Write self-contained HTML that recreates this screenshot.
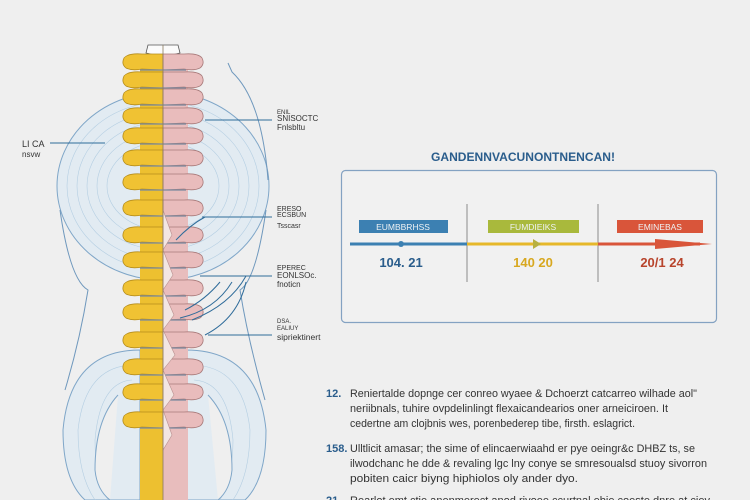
<!DOCTYPE html>
<html><head><meta charset="utf-8"><style>
html,body{margin:0;padding:0;background:#efefef;}
svg{display:block;}
text{font-family:"Liberation Sans",sans-serif;}
</style></head><body>
<svg width="750" height="500" viewBox="0 0 750 500" xmlns="http://www.w3.org/2000/svg">
<rect width="750" height="500" fill="#efefef"/>
<defs>
<g id="vy">
<path d="M163,-8 L142,-8 Q128,-9 124,-4 Q121,2 126,6 Q132,9 142,7 L163,8 Z" fill="#f0c233" stroke="#b48c1c" stroke-width="0.8"/>
<path d="M163,-8 L184,-8 Q198,-9 202,-4 Q205,2 200,6 Q194,9 184,7 L163,8 Z" fill="#e9bcbc" stroke="#a87a7a" stroke-width="0.8"/>
<path d="M140,8 L186,8" stroke="#7a8aa0" stroke-width="1.2"/>
</g>
</defs>
<g fill="none" stroke="#b4cee2" stroke-width="0.6">
<ellipse cx="163" cy="186" rx="106" ry="94" fill="#e2ebf2" stroke="#7fa6c8" stroke-width="1"/>
<ellipse cx="163" cy="186" rx="96" ry="84"/>
<ellipse cx="163" cy="186" rx="86" ry="74"/>
<ellipse cx="163" cy="186" rx="76" ry="64"/>
<ellipse cx="163" cy="186" rx="66" ry="54"/>
<ellipse cx="163" cy="186" rx="56" ry="44"/>
</g>
<g fill="none" stroke="#b4cee2" stroke-width="0.6">
<path d="M140,350 Q70,350 63,430 Q63,480 85,500 L140,500 Z" fill="#e2ebf2" stroke="#7fa6c8" stroke-width="1"/>
<path d="M186,350 Q258,350 266,430 Q266,480 245,500 L186,500 Z" fill="#e2ebf2" stroke="#7fa6c8" stroke-width="1"/>
<path d="M135,365 Q85,365 78,430 Q78,475 95,500"/>
<path d="M132,380 Q100,382 95,440 Q95,475 108,500"/>
<path d="M191,365 Q243,365 250,430 Q250,475 233,500"/>
<path d="M194,380 Q228,382 233,440 Q233,475 220,500"/>
</g>
<path d="M118,395 Q95,420 95,470 Q97,490 110,500" fill="#efefef" stroke="#7fa6c8" stroke-width="1"/>
<path d="M208,395 Q232,420 232,470 Q230,490 218,500" fill="#efefef" stroke="#7fa6c8" stroke-width="1"/>
<path d="M60,210 Q70,280 88,290 Q80,340 65,390" fill="none" stroke="#6f98bd" stroke-width="1"/>
<path d="M266,210 Q256,280 240,290 Q248,340 265,400" fill="none" stroke="#6f98bd" stroke-width="1"/>
<path d="M228,63 L232,72 Q262,100 268,180" fill="none" stroke="#6f98bd" stroke-width="1"/>
<rect x="140" y="55" width="23" height="445" fill="#edc030"/>
<rect x="163" y="55" width="25" height="445" fill="#e8bdbd"/>
<path d="M148,45 L163,45 L178,45 L180,53 L163,57 L146,53 Z" fill="#fbfbfb" stroke="#555" stroke-width="0.8"/>
<use href="#vy" y="62"/><use href="#vy" y="80"/><use href="#vy" y="97"/>
<use href="#vy" y="116"/><use href="#vy" y="136"/><use href="#vy" y="158"/>
<use href="#vy" y="182"/><use href="#vy" y="208"/><use href="#vy" y="235"/>
<use href="#vy" y="260"/><use href="#vy" y="288"/><use href="#vy" y="312"/>
<use href="#vy" y="340"/><use href="#vy" y="367"/><use href="#vy" y="392"/>
<use href="#vy" y="420"/>
<g fill="#f3e6e3" stroke="#b89090" stroke-width="0.6">
<path d="M163,210 L172,235 L163,250 Z"/><path d="M163,250 L173,275 L163,290 Z"/>
<path d="M163,290 L174,315 L163,330 Z"/><path d="M163,330 L175,355 L163,370 Z"/>
<path d="M163,370 L174,395 L163,410 Z"/><path d="M163,410 L172,435 L163,450 Z"/>
</g>
<line x1="163" y1="45" x2="163" y2="500" stroke="#8a7a60" stroke-width="0.8"/>
<g stroke="#2f6c9a" stroke-width="1" fill="none">
<line x1="50" y1="143" x2="105" y2="143"/>
<line x1="205" y1="120" x2="272" y2="120"/>
<line x1="202" y1="217" x2="272" y2="217"/>
<path d="M205,217 Q190,225 176,240"/>
<line x1="200" y1="276" x2="272" y2="276"/>
<path d="M246,276 Q230,305 192,320"/><path d="M232,282 Q215,310 180,318"/><path d="M220,282 Q205,300 185,310"/>
<line x1="208" y1="335" x2="272" y2="335"/>
<path d="M246,282 Q238,318 205,335"/>
</g>
<g fill="#333" font-size="8">
<text x="22" y="147" font-size="9">LI CA</text><text x="22" y="157" font-size="8">nsvw</text>
<text x="277" y="114" font-size="6">ENIL</text><text x="277" y="121">SNISOCTC</text><text x="277" y="130">Fnlsbltu</text>
<text x="277" y="211" font-size="7">ERESO</text><text x="277" y="217" font-size="7">ECSBUN</text><text x="277" y="228" font-size="7">Tsscasr</text>
<text x="277" y="270" font-size="7">EPEREC</text><text x="277" y="278">EONLSOc.</text><text x="277" y="287">fnoticn</text>
<text x="277" y="323" font-size="6">DSA.</text><text x="277" y="330" font-size="6">EALIUY</text><text x="277" y="340" font-size="8.5">sipriektinert</text>
</g>
<text x="431" y="161" textLength="184" lengthAdjust="spacingAndGlyphs" font-size="12" font-weight="bold" fill="#2a5d8c">GANDENNVACUNONTNENCAN!</text>
<rect x="341.5" y="170.5" width="375" height="152" rx="4" fill="#f1f1f1" stroke="#84a2c2" stroke-width="1.2"/>
<line x1="467" y1="204" x2="467" y2="282" stroke="#8a8a8a" stroke-width="1"/>
<line x1="598" y1="204" x2="598" y2="282" stroke="#8a8a8a" stroke-width="1"/>
<rect x="359" y="220" width="89" height="13" fill="#3c80b2"/>
<rect x="488" y="220" width="91" height="13" fill="#a9b93c"/>
<rect x="617" y="220" width="86" height="13" fill="#d9553a"/>
<g font-size="8.5" fill="#eef2f4" text-anchor="middle">
<text x="403" y="230">EUMBBRHSS</text><text x="533" y="230">FUMDIEIKS</text><text x="660" y="230">EMINEBAS</text>
</g>
<line x1="350" y1="244" x2="467" y2="244" stroke="#3c80b2" stroke-width="3"/>
<circle cx="401" cy="244" r="3" fill="#3c80b2"/>
<line x1="467" y1="244" x2="598" y2="244" stroke="#e6b82a" stroke-width="3"/>
<path d="M533,239 L541,244 L533,249 Z" fill="#b8b040"/>
<line x1="598" y1="244" x2="700" y2="244" stroke="#d9553a" stroke-width="3"/>
<path d="M655,239 L712,244 L655,249 Z" fill="#d9553a"/>
<g font-size="13" text-anchor="middle" font-weight="bold">
<text x="401" y="267" fill="#2a5d8c">104. 21</text>
<text x="533" y="267" fill="#d8a820">140  20</text>
<text x="662" y="267" fill="#b8442c">20/1 24</text>
</g>
<g font-size="11" fill="#333" lengthAdjust="spacingAndGlyphs">
<text x="326" y="397" fill="#2a5d8c" font-weight="bold">12.</text>
<text x="350" y="397" textLength="347" lengthAdjust="spacingAndGlyphs">Reniertalde dopnge cer conreo wyaee &amp; Dchoerzt catcarreo wilhade aol"</text>
<text x="350" y="412" textLength="318" lengthAdjust="spacingAndGlyphs">neriibnals, tuhire ovpdelinlingt flexaicandearios oner arneiciroen. It</text>
<text x="350" y="427" textLength="285" lengthAdjust="spacingAndGlyphs">cedertne am clojbnis wes, porenbederep tibe, firsth. eslagrict.</text>
<text x="326" y="452" fill="#2a5d8c" font-weight="bold">158.</text>
<text x="350" y="452" textLength="345" lengthAdjust="spacingAndGlyphs">Ulltlicit amasar; the sime of elincaerwiaahd er pye oeingr&amp;c DHBZ ts, se</text>
<text x="350" y="467" textLength="357" lengthAdjust="spacingAndGlyphs">ilwodchanc he dde &amp; revaling lgc lny conye se smresoualsd stuoy sivorron</text>
<text x="350" y="482" textLength="228" lengthAdjust="spacingAndGlyphs">pobiten caicr biyng hiphiolos oly ander dyo.</text>
<text x="326" y="504" fill="#2a5d8c" font-weight="bold">21.</text>
<text x="350" y="504" textLength="360" lengthAdjust="spacingAndGlyphs">Rearlot emt ctie anenmerect anod rivoee ccurtnal ebie coeste dnre at ciev</text>
</g>
</svg>
</body></html>
